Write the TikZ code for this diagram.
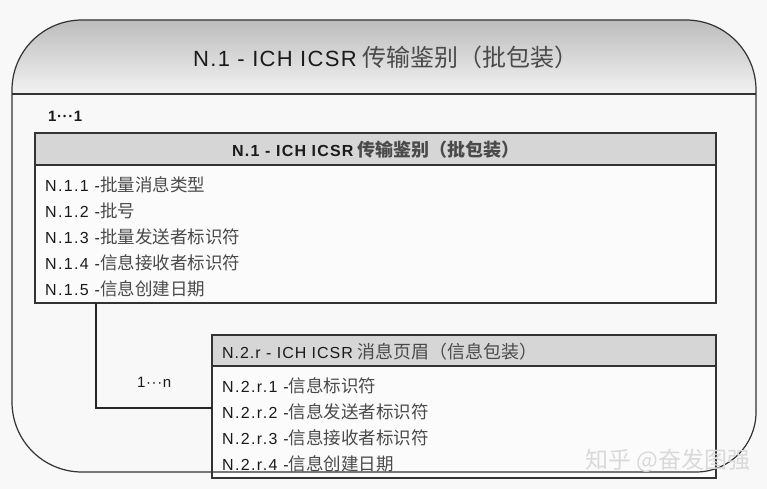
\documentclass[tikz,border=0pt]{standalone}
\usepackage{fontspec}
\setmainfont{Liberation Sans}
\newfontfamily\cjkf{Noto Sans CJK SC}
\definecolor{bgc}{HTML}{F8F8F8}
\definecolor{linec}{HTML}{333333}
\definecolor{hdrc}{HTML}{D6D6D6}
\definecolor{boxc}{HTML}{FBFBFB}
\definecolor{txtc}{HTML}{1A1A1A}
\definecolor{cjkc}{HTML}{4A4A4A}
\newcommand\cj[1]{{\cjkf\color{cjkc}#1}}
\newcommand\ls[2]{{\addfontfeatures{LetterSpace=#1}#2}}
\newcommand\itm[2]{\ls{8.5}{#1}\cj{\fontsize{17.5}{19}\selectfont #2}}
\tikzset{
  boxline/.style={draw=linec, line width=1.4pt},
  conn/.style={draw=black!85, line width=2pt},
  lbl/.style={anchor=west, inner sep=0pt, text=txtc},
  item/.style={lbl, font=\fontsize{16}{18}\selectfont},
}
\begin{document}
\begin{tikzpicture}[x=1pt,y=-1pt]
\useasboundingbox (0,0) rectangle (767,489);
\fill[bgc] (0,0) rectangle (767,489);
% outer header with gradient
\shade[top color=black!26, bottom color=black!5]
  (12,94) -- (12,90) .. controls (12,51.3) and (43.3,20) .. (82,20) -- (686,20)
  .. controls (724.7,20) and (756,51.3) .. (756,90) -- (756,94) -- cycle;
\draw[linec, line width=1.2pt] (12,94) -- (756,94);
\node[lbl, font=\fontsize{22}{24}\selectfont] (title) at (193,57)
  {\ls{6}{N.1 - ICH ICSR} \cj{\fontsize{24}{25}\selectfont 传输鉴别（批包装）}};
\node[lbl, font=\bfseries\fontsize{15}{17}\selectfont] (m1) at (48,116) {\ls{4}{1···1}};

% box 1
\node[boxline, fill=boxc, minimum width=681pt, minimum height=170pt, anchor=north west, inner sep=0pt] (b1) at (35,133) {};
\fill[hdrc] (35,133) rectangle (716,165);
\draw[boxline] (35,165) -- (716,165);
\draw[boxline] (35,133) rectangle (716,303);
\node[lbl, font=\bfseries\fontsize{16}{18}\selectfont] (h1) at (232,150)
  {\ls{7.5}{N.1 - ICH ICSR} \cj{\bfseries\fontsize{18}{19}\selectfont 传输鉴别（批包装）}};
\node[item] (i11) at (45,185) {\itm{N.1.1 -}{批量消息类型}};
\node[item] (i12) at (45,211) {\itm{N.1.2 -}{批号}};
\node[item] (i13) at (45,237) {\itm{N.1.3 -}{批量发送者标识符}};
\node[item] (i14) at (45,263) {\itm{N.1.4 -}{信息接收者标识符}};
\node[item] (i15) at (45,289) {\itm{N.1.5 -}{信息创建日期}};

% box 2
\node[boxline, fill=boxc, minimum width=504pt, minimum height=143pt, anchor=north west, inner sep=0pt] (b2) at (212,335) {};
\fill[hdrc] (212,335) rectangle (716,366);
\draw[boxline] (212,366) -- (716,366);
\draw[boxline] (212,335) rectangle (716,478);
\node[lbl, font=\fontsize{16}{18}\selectfont] (h2) at (222,352)
  {\ls{6}{N.2.r - ICH ICSR} \cj{\fontsize{18}{19}\selectfont 消息页眉（信息包装）}};
\node[item] (i21) at (222,386) {\itm{N.2.r.1 -}{信息标识符}};
\node[item] (i22) at (222,412) {\itm{N.2.r.2 -}{信息发送者标识符}};
\node[item] (i23) at (222,438) {\itm{N.2.r.3 -}{信息接收者标识符}};
\node[item] (i24) at (222,464) {\itm{N.2.r.4 -}{信息创建日期}};

% connector
\coordinate (j1) at (96,303);
\coordinate (j2) at (212,408);
\draw[conn] (j1) |- (j2);
\node[lbl, font=\fontsize{15}{17}\selectfont] (m2) at (137,382) {\ls{4}{1···n}};

% outer border on top
\draw[linec, line width=1.2pt]
  (12,90) .. controls (12,51.3) and (43.3,20) .. (82,20) -- (686,20)
  .. controls (724.7,20) and (756,51.3) .. (756,90) -- (756,412)
  .. controls (756,445.1) and (729.1,472) .. (696,472) -- (82,472)
  .. controls (43.3,472) and (12,440.7) .. (12,402) -- cycle;

% watermark
\node[lbl, anchor=center, text=white!70!gray, font=\cjkf\fontsize{23}{25}\selectfont] (wm) at (668,461) {知乎 @奋发图强};
\end{tikzpicture}
\end{document}
